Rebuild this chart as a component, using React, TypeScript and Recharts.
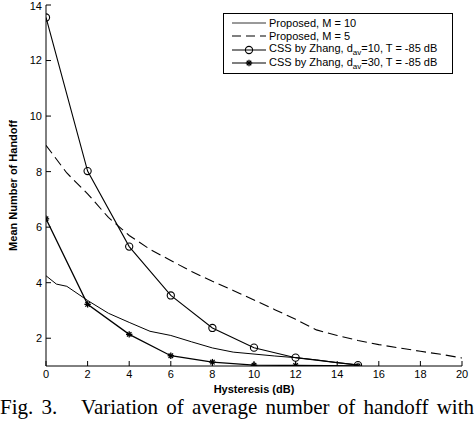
import { LineChart, Line, XAxis, YAxis } from "recharts";

// hysteresis (dB) values per series
const proposed10X = [0, 0.5, 1, 2, 3, 4, 5, 6, 7, 8, 9, 10, 11, 12, 13, 14, 15];
const proposed10Y = [4.25, 3.95, 3.87, 3.36, 2.9, 2.57, 2.25, 2.1, 1.87, 1.65, 1.5, 1.43, 1.36, 1.3, 1.22, 1.12, 1.04];

const proposed5X = [0, 1, 2, 3, 4, 5, 6, 7, 8, 9, 10, 11, 12, 13, 14, 15, 16, 17, 18, 19, 20];
const proposed5Y = [8.95, 7.95, 7.2, 6.35, 5.7, 5.2, 4.8, 4.4, 4.05, 3.72, 3.38, 3.03, 2.68, 2.3, 2.1, 1.92, 1.77, 1.65, 1.53, 1.42, 1.29];

const cssX = [0, 2, 4, 6, 8, 10, 12, 15];
const css10Y = [13.55, 8.02, 5.3, 3.54, 2.37, 1.66, 1.3, 1.03];
const css30Y = [6.3, 3.22, 2.14, 1.37, 1.14, 1.03, 1.02, 1.0];

const xTicks = [0, 2, 4, 6, 8, 10, 12, 14, 16, 18, 20];
const yTicks = [2, 4, 6, 8, 10, 12, 14];

const seriesNames = [
  "Proposed, M = 10",
  "Proposed, M = 5",
  "CSS by Zhang, dav=10, T = -85 dB",
  "CSS by Zhang, dav=30, T = -85 dB",
];

const toPoints = (xs: number[], ys: number[]) => xs.map((x, i) => ({ x, y: ys[i] }));

const sans = "Liberation Sans, Arial, sans-serif";
const tickFont = { fontFamily: sans, fontSize: 11, fill: "#000" };

function CircleDot(props: any) {
  const { cx, cy } = props;
  if (cx == null || cy == null) return null;
  return <circle cx={cx} cy={cy} r={3.6} fill="none" stroke="#000" strokeWidth={1.1} />;
}

function StarDot(props: any) {
  const { cx, cy } = props;
  if (cx == null || cy == null) return null;
  const r = 3.2;
  return (
    <g stroke="#000" strokeWidth={1.3}>
      <line x1={cx - r} y1={cy} x2={cx + r} y2={cy} />
      <line x1={cx} y1={cy - r} x2={cx} y2={cy + r} />
      <line x1={cx - r * 0.7} y1={cy - r * 0.7} x2={cx + r * 0.7} y2={cy + r * 0.7} />
      <line x1={cx - r * 0.7} y1={cy + r * 0.7} x2={cx + r * 0.7} y2={cy - r * 0.7} />
    </g>
  );
}

function LegendLabel({ text }: { text: string }) {
  const i = text.indexOf("dav");
  if (i < 0) return <span>{text}</span>;
  return (
    <span>
      {text.slice(0, i)}d<sub style={{ fontSize: 8 }}>av</sub>
      {text.slice(i + 3)}
    </span>
  );
}

function LegendBox() {
  const sample = (k: number) => (
    <svg width={34} height={12} style={{ marginRight: 3, flex: "none" }}>
      <line
        x1={0}
        y1={6}
        x2={34}
        y2={6}
        stroke="#000"
        strokeWidth={k === 0 ? 0.8 : 1.1}
        strokeDasharray={k === 1 ? "9 5" : undefined}
      />
      {k === 2 && <CircleDot cx={17} cy={6} />}
      {k === 3 && <StarDot cx={17} cy={6} />}
    </svg>
  );
  return (
    <div
      style={{
        position: "absolute",
        left: 223,
        top: 13,
        border: "1px solid #000",
        background: "#fff",
        width: 230,
        height: 61,
        boxSizing: "border-box",
        padding: "2px 0 0 8px",
        fontFamily: sans,
        fontSize: 11,
        color: "#000",
      }}
    >
      {seriesNames.map((n, k) => (
        <div key={n} style={{ display: "flex", alignItems: "center", height: 13.5, whiteSpace: "nowrap" }}>
          {sample(k)}
          <LegendLabel text={n} />
        </div>
      ))}
    </div>
  );
}

export default function App() {
  return (
    <div style={{ position: "absolute", top: 0, left: 0, width: 474, height: 421, background: "#fff", overflow: "hidden" }}>
      <LineChart width={474} height={421} margin={{ top: 5, right: 12, bottom: 25, left: 0 }}>
        <XAxis
          xAxisId="b"
          type="number"
          dataKey="x"
          domain={[0, 20]}
          ticks={xTicks}
          allowDataOverflow
          height={30}
          tickSize={-5}
          tickMargin={9}
          tick={tickFont}
          stroke="#000"
          label={{
            value: "Hysteresis (dB)",
            position: "insideBottom",
            offset: 3,
            style: { fontFamily: sans, fontSize: 11, fontWeight: 700, fill: "#000" },
          }}
        />
        <XAxis
          xAxisId="t"
          orientation="top"
          type="number"
          dataKey="x"
          domain={[0, 20]}
          ticks={xTicks}
          allowDataOverflow
          height={0}
          tickSize={-5}
          tick={false}
          stroke="#000"
        />
        <YAxis
          yAxisId="l"
          type="number"
          domain={[1, 14]}
          ticks={yTicks}
          allowDataOverflow
          width={46}
          tickSize={-5}
          tickMargin={9}
          tick={tickFont}
          stroke="#000"
          label={{
            value: "Mean Number of Handoff",
            angle: -90,
            position: "insideLeft",
            offset: 13,
            style: { textAnchor: "middle", fontFamily: sans, fontSize: 11, fontWeight: 700, fill: "#000" },
          }}
        />
        <YAxis
          yAxisId="r"
          orientation="right"
          type="number"
          domain={[1, 14]}
          ticks={yTicks}
          allowDataOverflow
          width={0}
          tickSize={-5}
          tick={false}
          stroke="#000"
        />
        <Line
          xAxisId="b"
          yAxisId="l"
          data={toPoints(proposed10X, proposed10Y)}
          dataKey="y"
          name={seriesNames[0]}
          stroke="#000"
          strokeWidth={1}
          dot={false}
          isAnimationActive={false}
        />
        <Line
          xAxisId="b"
          yAxisId="l"
          data={toPoints(proposed5X, proposed5Y)}
          dataKey="y"
          name={seriesNames[1]}
          stroke="#000"
          strokeWidth={1.1}
          strokeDasharray="10 5"
          dot={false}
          isAnimationActive={false}
        />
        <Line
          xAxisId="b"
          yAxisId="l"
          data={toPoints(cssX, css10Y)}
          dataKey="y"
          name={seriesNames[2]}
          stroke="#000"
          strokeWidth={1.1}
          dot={<CircleDot />}
          isAnimationActive={false}
        />
        <Line
          xAxisId="b"
          yAxisId="l"
          data={toPoints(cssX, css30Y)}
          dataKey="y"
          name={seriesNames[3]}
          stroke="#000"
          strokeWidth={1.3}
          dot={<StarDot />}
          isAnimationActive={false}
        />
      </LineChart>
      <LegendBox />
      <div
        style={{
          position: "absolute",
          left: 0,
          top: 397,
          width: 474,
          fontFamily: "Liberation Serif, Times New Roman, serif",
          fontSize: 21,
          lineHeight: "21px",
          whiteSpace: "nowrap",
          textAlign: "justify",
          textAlignLast: "justify",
          color: "#000",
        }}
      >
        Fig. 3.<span style={{ marginLeft: 16 }} /> Variation of average number of handoff with
      </div>
    </div>
  );
}
